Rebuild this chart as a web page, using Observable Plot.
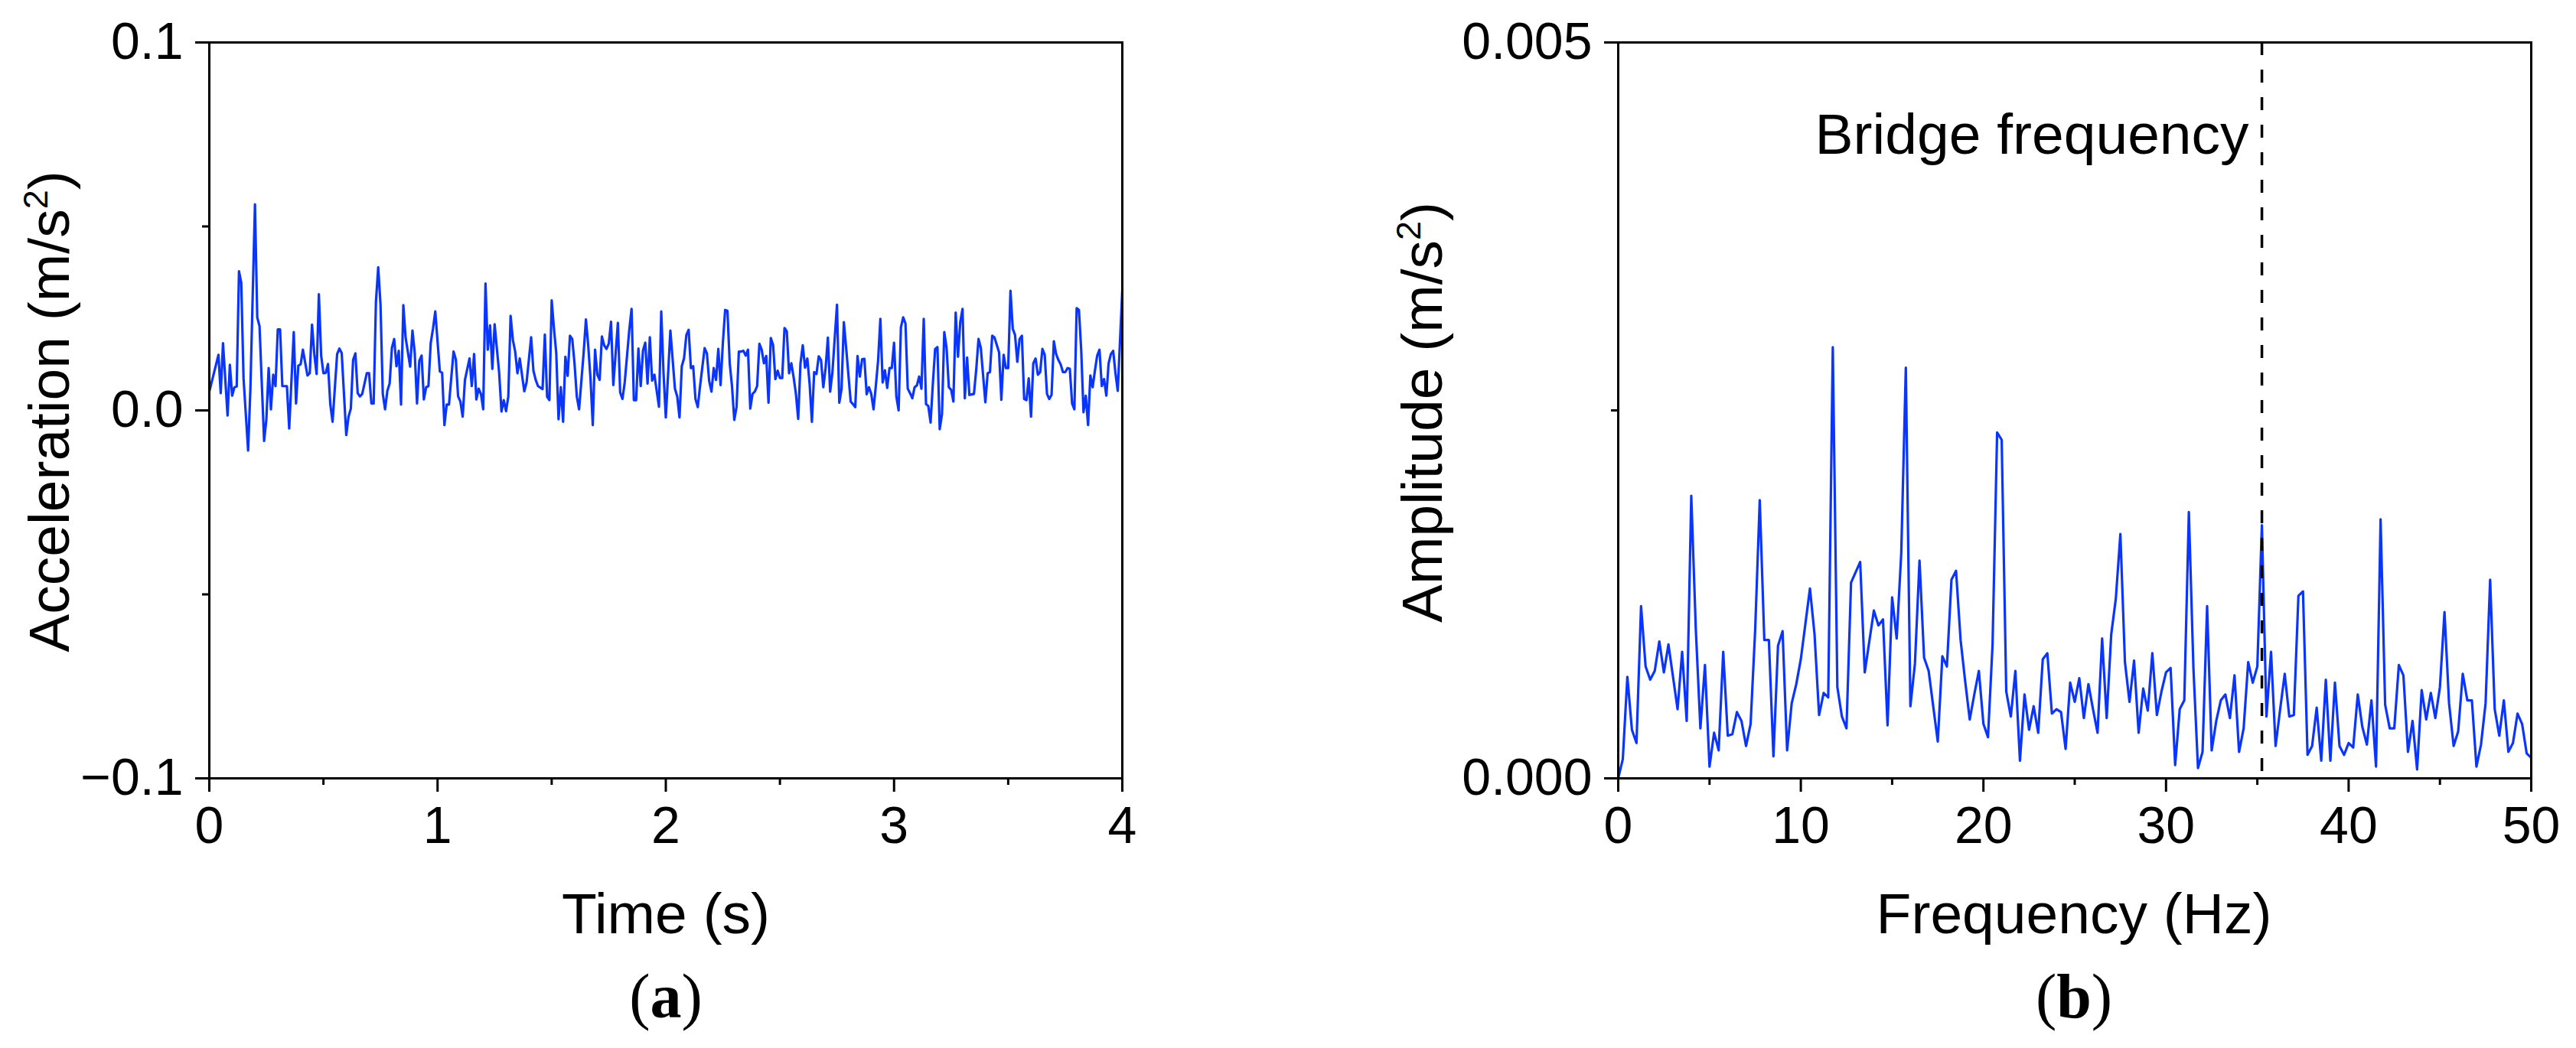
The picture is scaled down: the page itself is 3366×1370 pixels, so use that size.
<!DOCTYPE html>
<html>
<head>
<meta charset="utf-8">
<script src="https://cdn.jsdelivr.net/npm/d3@7"></script>
<script src="https://cdn.jsdelivr.net/npm/@observablehq/plot@0.6"></script>
<style>
  html, body { margin: 0; padding: 0; background: #fff; }
  #page { position: relative; width: 3366px; height: 1370px; overflow: hidden; background: #fff;
          font-family: "Liberation Sans", Arial, sans-serif; color: #000; }
  .panel { position: absolute; top: 0; }
  .xtitle { position: absolute; font-size: 75px; line-height: 1; white-space: nowrap; transform: translateX(-50%); }
  .ytitle { position: absolute; font-size: 75px; line-height: 1; white-space: nowrap;
            transform: translate(-50%, -50%) rotate(-90deg); }
  .cap { position: absolute; font-family: "Liberation Serif", "Times New Roman", serif; font-size: 82px;
         line-height: 1; white-space: nowrap; transform: translate(-50%, -50%); }
  .cap b { font-weight: bold; }
  sup { font-size: 0.6em; vertical-align: 0; position: relative; top: -0.62em; line-height: 0; }
</style>
</head>
<body>
<div id="page">
  <div class="panel" id="panelA" style="left:0px"></div>
  <div class="panel" id="panelB" style="left:1700px"></div>
  <div class="ytitle" id="yTitleA" style="left:64px; top:538px">Acceleration (m/s<sup>2</sup>)</div>
  <div class="xtitle" id="xTitleA" style="left:870px; top:1157px">Time (s)</div>
  <div class="cap" style="left:870px; top:1303px">(<b>a</b>)</div>
  <div class="ytitle" id="yTitleB" style="left:1858px; top:539px">Amplitude (m/s<sup>2</sup>)</div>
  <div class="xtitle" id="xTitleB" style="left:2710px; top:1157px">Frequency (Hz)</div>
  <div class="cap" style="left:2710px; top:1303px">(<b>b</b>)</div>
</div>
<script>
// ---------- Panel (a): acceleration time history (vertices) ----------
const accelTime = [
  0.00,0.04,0.05,0.06,0.08,0.09,0.10,0.11,0.12,0.13,
  0.14,0.15,0.17,0.18,0.20,0.21,0.22,0.24,0.25,0.26,
  0.27,0.28,0.29,0.30,0.31,0.32,0.34,0.35,0.37,0.38,
  0.39,0.40,0.41,0.43,0.44,0.45,0.46,0.47,0.48,0.49,
  0.50,0.51,0.52,0.53,0.54,0.56,0.57,0.58,0.60,0.61,
  0.62,0.63,0.64,0.65,0.66,0.67,0.68,0.69,0.70,0.71,
  0.72,0.73,0.74,0.75,0.76,0.77,0.78,0.79,0.80,0.81,
  0.82,0.83,0.84,0.85,0.86,0.88,0.89,0.90,0.91,0.92,
  0.93,0.94,0.95,0.96,0.97,0.98,0.99,1.01,1.02,1.03,
  1.04,1.05,1.07,1.08,1.09,1.10,1.11,1.12,1.14,1.15,
  1.16,1.17,1.18,1.19,1.20,1.21,1.22,1.23,1.24,1.25,
  1.26,1.27,1.28,1.29,1.30,1.31,1.32,1.33,1.34,1.35,
  1.36,1.38,1.39,1.41,1.42,1.43,1.44,1.46,1.47,1.48,
  1.49,1.50,1.51,1.52,1.53,1.54,1.55,1.56,1.57,1.58,
  1.59,1.60,1.61,1.62,1.64,1.65,1.66,1.67,1.68,1.69,
  1.70,1.71,1.72,1.73,1.74,1.75,1.76,1.77,1.79,1.80,
  1.81,1.82,1.84,1.85,1.86,1.87,1.88,1.89,1.90,1.91,
  1.92,1.93,1.94,1.95,1.97,1.98,1.99,2.00,
  2.02,2.04,2.05,2.06,2.07,2.08,2.09,2.10,2.11,2.12,
  2.13,2.14,2.15,2.17,2.18,2.19,2.20,2.21,2.22,2.23,
  2.24,2.25,2.26,2.27,2.28,2.29,2.30,2.31,2.32,2.33,
  2.34,2.35,2.36,2.37,2.38,2.39,2.40,2.41,2.42,2.43,
  2.44,2.45,2.46,2.47,2.48,2.49,2.50,2.51,2.52,2.53,
  2.54,2.55,2.56,2.57,2.58,2.59,2.60,2.61,2.62,2.63,
  2.64,2.65,2.66,2.67,2.68,2.69,2.70,2.71,2.72,2.73,
  2.75,2.76,2.77,2.78,2.79,2.81,2.82,2.83,2.84,2.85,
  2.86,2.87,2.88,2.89,2.90,2.91,2.92,2.93,2.94,2.95,
  2.96,2.97,2.98,2.99,3.00,3.01,3.02,3.03,3.04,3.05,
  3.06,3.07,3.08,3.09,3.10,3.11,3.12,3.13,3.14,3.15,
  3.16,3.17,3.18,3.19,3.20,3.21,3.22,3.23,3.24,3.25,
  3.26,3.27,3.28,3.29,3.30,3.31,3.32,3.33,3.35,3.36,
  3.37,3.38,3.40,3.41,3.42,3.43,3.44,3.46,3.47,3.48,
  3.49,3.50,3.51,3.52,3.53,3.54,3.55,3.56,3.57,3.58,
  3.59,3.60,3.61,3.62,3.63,3.64,3.65,3.66,3.67,3.68,
  3.69,3.70,3.71,3.72,3.73,3.74,3.75,3.76,3.77,3.78,
  3.79,3.80,3.81,3.82,3.83,3.84,3.85,3.86,3.87,3.88,
  3.89,3.90,3.91,3.92,3.93,3.94,3.95,3.96,3.97,3.98,
  4.00
];
const accelValue = [
  0.0051,0.0151,0.0047,0.0183,-0.0014,0.0124,0.0040,0.0063,0.0065,0.0378,
  0.0347,0.0087,-0.0109,0.0059,0.0560,0.0253,0.0229,-0.0083,-0.0024,0.0115,
  0.0003,0.0097,0.0066,0.0220,0.0220,0.0066,0.0066,-0.0049,0.0213,0.0019,
  0.0122,0.0125,0.0165,0.0095,0.0101,0.0233,0.0153,0.0099,0.0316,0.0149,
  0.0101,0.0102,0.0126,0.0017,-0.0031,0.0153,0.0168,0.0156,-0.0067,-0.0017,
  0.0005,0.0137,0.0155,0.0047,0.0038,0.0045,0.0073,0.0101,0.0101,0.0019,
  0.0019,0.0295,0.0389,0.0288,0.0045,0.0003,0.0053,0.0073,0.0170,0.0194,
  0.0120,0.0162,0.0016,0.0286,0.0198,0.0119,0.0217,0.0156,0.0019,0.0135,
  0.0149,0.0030,0.0063,0.0066,0.0183,0.0222,0.0269,0.0106,0.0102,-0.0040,
  0.0016,0.0016,0.0160,0.0139,0.0038,0.0024,-0.0017,0.0083,0.0141,0.0066,
  0.0153,0.0030,0.0059,0.0045,0.0003,0.0345,0.0165,0.0231,0.0113,0.0234,
  0.0167,0.0101,-0.0003,0.0028,-0.0002,0.0038,0.0257,0.0191,0.0160,0.0101,
  0.0141,0.0052,0.0076,0.0199,0.0108,0.0083,0.0066,0.0058,0.0206,0.0037,
  0.0028,0.0299,0.0222,0.0156,-0.0024,0.0063,-0.0031,0.0146,0.0094,0.0203,
  0.0194,0.0128,0.0038,0.0003,0.0156,0.0247,0.0177,0.0087,-0.0040,0.0165,
  0.0097,0.0083,0.0201,0.0177,0.0167,0.0181,0.0241,0.0069,0.0238,0.0049,
  0.0031,0.0076,0.0219,0.0276,0.0028,0.0028,0.0168,0.0066,0.0163,0.0184,
  0.0073,0.0199,0.0081,0.0097,0.0010,0.0269,0.0101,-0.0019,
  0.0217,0.0059,0.0038,-0.0019,0.0120,0.0142,0.0205,0.0219,0.0115,0.0120,
  0.0031,0.0009,0.0066,0.0169,0.0155,0.0080,0.0051,0.0115,0.0083,0.0167,
  0.0069,0.0184,0.0273,0.0271,0.0128,0.0066,-0.0026,0.0010,0.0160,0.0160,
  0.0162,0.0149,0.0165,0.0005,0.0045,0.0051,0.0066,0.0181,0.0165,0.0128,
  0.0148,0.0021,0.0197,0.0178,0.0085,0.0108,0.0088,0.0088,0.0224,0.0215,
  0.0101,0.0128,0.0090,0.0045,-0.0023,0.0128,0.0177,0.0116,0.0141,0.0073,
  -0.0031,0.0104,0.0099,0.0147,0.0137,0.0063,0.0115,0.0198,0.0051,0.0104,
  0.0287,0.0021,0.0059,0.0240,0.0170,0.0024,0.0017,0.0009,0.0148,0.0092,
  0.0139,0.0140,0.0044,0.0063,0.0045,0.0003,0.0066,0.0135,0.0249,0.0076,
  0.0109,0.0061,0.0115,0.0115,0.0184,0.0038,0.0000,0.0226,0.0253,0.0236,
  0.0059,0.0047,0.0033,0.0063,0.0068,0.0092,0.0059,0.0249,0.0017,0.0012,
  -0.0033,0.0073,0.0167,0.0172,-0.0051,-0.0010,0.0213,0.0170,0.0063,0.0056,
  0.0024,0.0266,0.0146,0.0240,0.0276,0.0033,0.0144,0.0042,0.0045,0.0111,
  0.0194,0.0170,0.0022,0.0101,0.0104,0.0203,0.0198,0.0158,0.0029,0.0151,
  0.0115,0.0115,0.0325,0.0222,0.0205,0.0132,0.0194,0.0203,0.0031,0.0028,
  0.0087,-0.0017,0.0128,0.0141,0.0097,0.0104,0.0167,0.0151,0.0045,0.0031,
  0.0042,0.0188,0.0153,0.0137,0.0125,0.0104,0.0104,0.0115,0.0113,0.0019,
  0.0003,0.0278,0.0273,0.0163,-0.0005,0.0040,-0.0040,0.0095,0.0063,0.0108,
  0.0149,0.0165,0.0066,0.0085,0.0040,0.0128,0.0153,0.0162,0.0101,0.0053,
  0.0326
];
const timeMajorTicks = [0, 1, 2, 3, 4];
const timeMinorTicks = [0.5, 1.5, 2.5, 3.5];
const accelMajorTicks = [-0.1, 0, 0.1];
const accelMinorTicks = [-0.05, 0.05];

// ---------- Panel (b): amplitude spectrum, one value per 0.25 Hz bin from 0 to 50 Hz ----------
const freqStep = 0.25;
const amplitude = [
  0.00000,0.00013,0.00069,0.00033,0.00024,0.00117,0.00076,0.00067,0.00073,0.00093,
  0.00072,0.00091,0.00069,0.00047,0.00086,0.00039,0.00192,0.00101,0.00034,0.00077,
  0.00008,0.00031,0.00019,0.00086,0.00029,0.00030,0.00045,0.00039,0.00022,0.00037,
  0.00101,0.00189,0.00094,0.00094,0.00015,0.00090,0.00100,0.00019,0.00051,0.00064,
  0.00081,0.00105,0.00129,0.00098,0.00043,0.00058,0.00055,0.00293,0.00062,0.00042,
  0.00034,0.00133,0.00140,0.00147,0.00072,0.00093,0.00114,0.00104,0.00108,0.00036,
  0.00123,0.00095,0.00153,0.00279,0.00049,0.00078,0.00148,0.00082,0.00073,0.00049,
  0.00025,0.00083,0.00076,0.00135,0.00141,0.00094,0.00066,0.00040,0.00057,0.00073,
  0.00037,0.00028,0.00091,0.00235,0.00230,0.00059,0.00042,0.00073,0.00012,0.00057,
  0.00033,0.00049,0.00031,0.00081,0.00085,0.00044,0.00047,0.00045,0.00020,0.00065,
  0.00052,0.00068,0.00041,0.00064,0.00047,0.00031,0.00095,0.00041,0.00098,0.00122,
  0.00166,0.00079,0.00052,0.00080,0.00031,0.00061,0.00046,0.00085,0.00043,0.00059,
  0.00072,0.00075,0.00009,0.00047,0.00053,0.00181,0.00075,0.00007,0.00018,0.00117,
  0.00019,0.00039,0.00053,0.00057,0.00041,0.00070,0.00018,0.00034,0.00079,0.00065,
  0.00076,0.00172,0.00042,0.00086,0.00022,0.00047,0.00071,0.00042,0.00043,0.00124,
  0.00127,0.00016,0.00022,0.00048,0.00012,0.00067,0.00012,0.00065,0.00022,0.00016,
  0.00024,0.00021,0.00057,0.00035,0.00023,0.00053,0.00008,0.00176,0.00050,0.00034,
  0.00034,0.00077,0.00070,0.00018,0.00039,0.00006,0.00060,0.00040,0.00058,0.00041,
  0.00062,0.00113,0.00051,0.00022,0.00032,0.00071,0.00053,0.00053,0.00008,0.00023,
  0.00051,0.00135,0.00047,0.00029,0.00053,0.00018,0.00024,0.00044,0.00037,0.00017,
  0.00014
];
const bridgeFrequency = 35.25;
const bridgeLabel = "Bridge frequency";
const freqMajorTicks = [0, 10, 20, 30, 40, 50];
const freqMinorTicks = [5, 15, 25, 35, 45];
const ampMajorTicks = [0, 0.005];
const ampMinorTicks = [0.0025];

// ---------- build tables ----------
const nA = Math.min(accelTime.length, accelValue.length);
const accelData = d3.range(nA).map(i => ({t: accelTime[i], a: accelValue[i]}));
const ampData = amplitude.map((a, i) => ({f: i * freqStep, a}));

const lineBlue = "#0a35ff";
const fontFamily = "'Liberation Sans', Arial, sans-serif";
const svgStyle = {fontFamily, fontSize: "68px", color: "#000", background: "transparent", overflow: "visible"};

const plotA = Plot.plot({
  width: 1506, height: 1247,
  marginLeft: 273, marginTop: 55, marginRight: 40, marginBottom: 230,
  style: svgStyle,
  x: {domain: [0, 4]},
  y: {domain: [-0.1, 0.1]},
  marks: [
    Plot.line(accelData, {x: "t", y: "a", stroke: lineBlue, strokeWidth: 3.2}),
    Plot.frame({stroke: "#000", strokeWidth: 3}),
    Plot.axisX(timeMajorTicks, {tickSize: 18, tickPadding: 18, strokeWidth: 3, fontSize: 68, label: null, tickFormat: d3.format("d")}),
    Plot.axisX(timeMinorTicks, {tickSize: 9, strokeWidth: 3, fill: "none", label: null}),
    Plot.axisY(accelMajorTicks, {tickSize: 18, tickPadding: 16, strokeWidth: 3, fontSize: 68, label: null, tickFormat: d3.format(".1f")}),
    Plot.axisY(accelMinorTicks, {tickSize: 9, strokeWidth: 3, fill: "none", label: null})
  ]
});
document.getElementById("panelA").appendChild(plotA);

const plotB = Plot.plot({
  width: 1647, height: 1247,
  marginLeft: 414, marginTop: 55, marginRight: 40, marginBottom: 230,
  style: svgStyle,
  x: {domain: [0, 50]},
  y: {domain: [0, 0.005]},
  marks: [
    Plot.line(ampData, {x: "f", y: "a", stroke: lineBlue, strokeWidth: 3.2}),
    Plot.ruleX([bridgeFrequency], {stroke: "#000", strokeWidth: 3.5, strokeDasharray: "17,19"}),
    Plot.text([bridgeLabel], {x: bridgeFrequency, y: 0.005, text: d => d, textAnchor: "end", lineAnchor: "top",
      dx: -17, dy: 92, fontSize: 75, fill: "#000"}),
    Plot.frame({stroke: "#000", strokeWidth: 3}),
    Plot.axisX(freqMajorTicks, {tickSize: 18, tickPadding: 18, strokeWidth: 3, fontSize: 68, label: null, tickFormat: d3.format("d")}),
    Plot.axisX(freqMinorTicks, {tickSize: 9, strokeWidth: 3, fill: "none", label: null}),
    Plot.axisY(ampMajorTicks, {tickSize: 18, tickPadding: 16, strokeWidth: 3, fontSize: 68, label: null, tickFormat: d3.format(".3f")}),
    Plot.axisY(ampMinorTicks, {tickSize: 9, strokeWidth: 3, fill: "none", label: null})
  ]
});
document.getElementById("panelB").appendChild(plotB);
</script>
</body>
</html>
